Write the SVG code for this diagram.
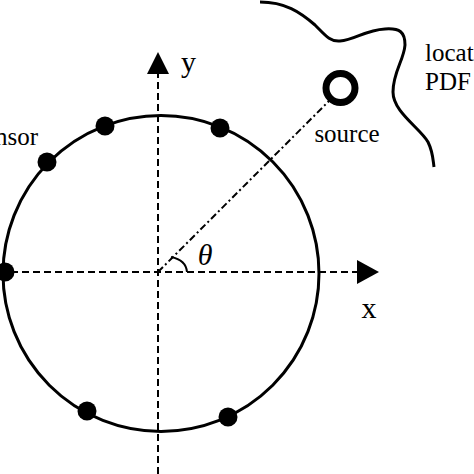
<svg xmlns="http://www.w3.org/2000/svg" width="474" height="474" viewBox="0 0 474 474">
<style>
.axis{stroke:#000;stroke-width:2;stroke-dasharray:7 4;fill:none}
.dd{stroke:#000;stroke-width:2;stroke-dasharray:7 3 2 3;fill:none}
.lbl{font-family:"Liberation Serif","Times New Roman",serif;font-size:25px;fill:#000}
.big{font-size:30px}
.sensor{fill:#000}
</style>
<rect width="474" height="474" fill="#fff"/>
<g id="connectors">
<line class="axis" x1="158" y1="474" x2="158" y2="74"/>
<line class="axis" x1="0" y1="272" x2="357" y2="272"/>
<polygon points="158,52 147,74 169,74" fill="#000"/>
<polygon points="379,272 357,260 357,284" fill="#000"/>
<line class="dd" x1="158" y1="272" x2="329" y2="101"/>
<path d="M171,257 Q186,260 187,272" fill="none" stroke="#000" stroke-width="2"/>
</g>
<g id="array">
<circle cx="161" cy="273.5" r="158" fill="none" stroke="#000" stroke-width="3"/>
</g>
<g id="sensors">
<circle class="sensor" cx="105" cy="126" r="9.5"/>
<circle class="sensor" cx="220" cy="128" r="9.5"/>
<circle class="sensor" cx="47" cy="162" r="9.5"/>
<circle class="sensor" cx="5" cy="272" r="9.5"/>
<circle class="sensor" cx="87" cy="411" r="9.5"/>
<circle class="sensor" cx="228" cy="417" r="9.5"/>
</g>
<g id="source">
<circle cx="340.5" cy="88" r="14.5" fill="none" stroke="#000" stroke-width="7"/>
<text class="lbl" x="347" y="142" text-anchor="middle">source</text>
</g>
<g id="pdf">
<path d="M260,2 C285,2 300,12 315,25 C325,35 330,42 340,41 C355,40 365,30 385,29 C400,28 405,32 405,45 C404,60 393,72 393,92 C393,112 420,128 428,142 C433,152 433,160 434,167" fill="none" stroke="#000" stroke-width="3"/>
<text class="lbl" x="425" y="61">location</text>
<text class="lbl" x="425" y="90">PDF</text>
</g>
<g id="labels">
<text class="lbl" x="38" y="145" text-anchor="end">sensor</text>
<text class="lbl big" x="181" y="72">y</text>
<text class="lbl big" x="369" y="318" text-anchor="middle">x</text>
<text class="lbl big" x="205" y="265" text-anchor="middle" font-style="italic">θ</text>
</g>
</svg>
